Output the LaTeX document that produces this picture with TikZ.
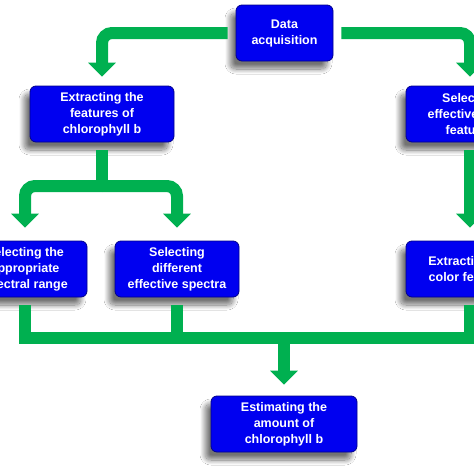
\documentclass[tikz,border=0pt]{standalone}
\usepackage{fontspec}
\setmainfont{Liberation Sans}
\usetikzlibrary{arrows.meta,shadows.blur}
\definecolor{flowgreen}{RGB}{0,176,80}
\definecolor{boxblue}{RGB}{0,0,240}
\tikzset{
  stage/.style={draw=blue!55!black,line width=0.8pt,fill=boxblue,rounded corners=6pt,
    text=white,align=center,font=\bfseries\fontsize{12.5}{16}\selectfont,
    minimum height=56pt,inner sep=2pt,
    blur shadow={shadow xshift=-6pt,shadow yshift=-8pt,
      shadow blur radius=5pt,shadow blur steps=20,shadow opacity=55}},
  flow/.style={draw=flowgreen,line width=12pt,shorten <=8pt},
  flowarrow/.style={flow,-{Triangle[width=27pt,length=14pt]},shorten >=10pt}
}
\begin{document}
\begin{tikzpicture}[x=1pt,y=-1pt]
	\clip (0,0) rectangle (474,474);
	\fill[white] (0,0) rectangle (474,474);
	\node[stage,minimum width=97pt] (data) at (284.5,33) {Data\\acquisition};
	\node[stage,minimum width=144pt] (feat) at (102,114) {Extracting the\\features of\\chlorophyll b};
	\node[stage,minimum width=128pt] (selcol) at (470,114) {Selecting\\effective color\\features};
	\node[stage,minimum width=124pt] (range) at (25,269) {Selecting the\\appropriate\\spectral range};
	\node[stage,minimum width=124pt] (spectra) at (177,269) {Selecting\\different\\effective spectra};
	\node[stage,minimum width=128pt] (extcol) at (470,269) {Extracting the\\color features};
	\node[stage,minimum width=146pt] (amount) at (284,424) {Estimating the\\amount of\\chlorophyll b};
	\coordinate (split) at (102,186);
	\coordinate (merge) at (284,338);
	\draw[flowarrow,rounded corners=10pt,shorten >=9pt] (data.west) -| (feat.north);
	\draw[flowarrow,rounded corners=10pt,shorten >=9pt] (data.east) -| (selcol.north);
	\draw[flow] (feat.south) -- (split);
	\draw[flowarrow,rounded corners=10pt,shorten <=0pt,shorten >=13pt] (split) -| (range.north);
	\draw[flowarrow,rounded corners=10pt,shorten <=0pt,shorten >=13pt] (split) -| (spectra.north);
	\draw[flowarrow,shorten >=13pt] (selcol.south) -- (extcol.north);
	\draw[flow,shorten >=8pt] (range.south) |- (merge) -| (extcol.south);
	\draw[flow] (spectra.south) -- (spectra.south |- merge);
	\draw[flowarrow,shorten <=0pt,shorten >=11pt] (merge) -- (amount.north);
\end{tikzpicture}
\end{document}
